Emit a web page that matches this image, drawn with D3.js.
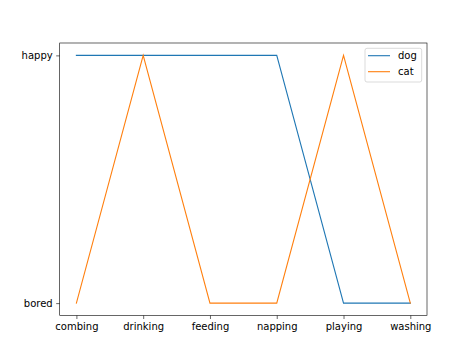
<!DOCTYPE html>
<html><head><meta charset="utf-8">
<script src="https://cdn.jsdelivr.net/npm/d3@7"></script>
<style>body{margin:0;background:#fff}svg{display:block;font-family:"DejaVu Sans",sans-serif}</style>
</head><body>
<script>
const activity = ["combing", "drinking", "feeding", "napping", "playing", "washing"];
const levels = ["bored", "happy"];
const dog = ["happy", "happy", "happy", "happy", "bored", "bored"];
const cat = ["bored", "happy", "bored", "bored", "happy", "bored"];
const seriesNames = ["dog", "cat"];
const colors = ["#1f77b4", "#ff7f0e"];

const W = 474, H = 355;
const m = {left: 59.7, right: 427, top: 43, bottom: 315.5};
const svg = d3.select("body").append("svg").attr("width", W).attr("height", H);

const x = d3.scaleLinear().domain([-0.25, activity.length - 1 + 0.25]).range([m.left, m.right]);
const y = d3.scaleLinear().domain([-0.05, 1.05]).range([m.bottom, m.top]);

const xAxis = d3.axisBottom(x).tickValues(d3.range(activity.length)).tickFormat(i => activity[i]).tickSize(3.5).tickPadding(3.5);
const yAxis = d3.axisLeft(y).tickValues([0, 1]).tickFormat(i => levels[i]).tickSize(3.5).tickPadding(3.5);

const gx = svg.append("g").attr("transform", `translate(0,${m.bottom})`).call(xAxis);
const gy = svg.append("g").attr("transform", `translate(${m.left},0)`).call(yAxis);
[gx, gy].forEach(g => {
  g.select(".domain").remove();
  g.selectAll("text").attr("font-size", "10px").attr("fill", "#000").attr("font-family", "DejaVu Sans, sans-serif");
  g.selectAll("line").attr("stroke", "#000").attr("stroke-width", 0.6);
});

const line = d3.line().x((d, i) => x(i)).y(d => y(levels.indexOf(d)));
[dog, cat].forEach((s, k) => {
  svg.append("path").datum(s).attr("d", line).attr("fill", "none")
    .attr("stroke", colors[k]).attr("stroke-width", 1.1).attr("stroke-linecap", "square");
});

svg.append("rect").attr("x", m.left).attr("y", m.top).attr("width", m.right - m.left).attr("height", m.bottom - m.top)
  .attr("fill", "none").attr("stroke", "#000").attr("stroke-width", 0.6);

// legend
const lg = svg.append("g");
lg.append("rect").attr("x", 365).attr("y", 48.3).attr("width", 56.7).attr("height", 33.7).attr("rx", 2)
  .attr("fill", "#fff").attr("fill-opacity", 0.8).attr("stroke", "#ccc").attr("stroke-width", 0.7);
seriesNames.forEach((n, k) => {
  const yy = 55.7 + k * 16;
  lg.append("line").attr("x1", 368).attr("x2", 390).attr("y1", yy).attr("y2", yy).attr("stroke", colors[k]).attr("stroke-width", 1.1);
  lg.append("text").attr("x", 398).attr("y", yy).attr("dy", "0.35em").attr("font-size", "10px").text(n);
});
</script>
</body></html>
